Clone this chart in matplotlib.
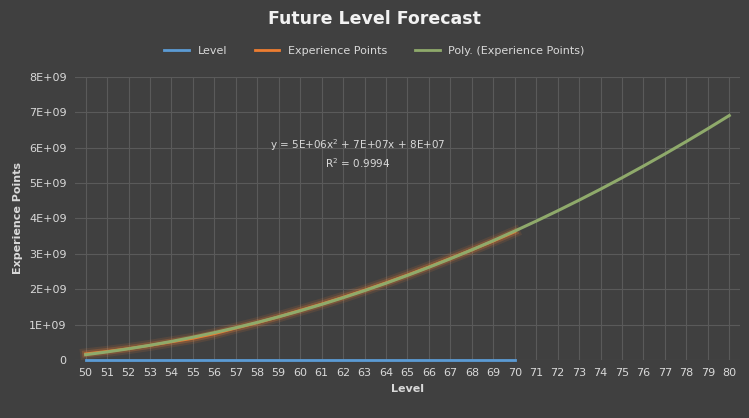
import matplotlib.pyplot as plt
import matplotlib.patheffects as pe
import numpy as np

levels = list(range(50, 81))
known_levels = list(range(50, 71))
experience = [0.17, 0.24, 0.32, 0.41, 0.51, 0.61, 0.74, 0.90, 1.05, 1.22, 1.40,
              1.58, 1.77, 1.97, 2.18, 2.40, 2.63, 2.87, 3.11, 3.36, 3.62]
experience = [v * 1e9 for v in experience]
y_ticks = [0, 1e9, 2e9, 3e9, 4e9, 5e9, 6e9, 7e9, 8e9]
y_labels = ["0", "1E+09", "2E+09", "3E+09", "4E+09", "5E+09", "6E+09", "7E+09", "8E+09"]

bg = "#404040"
fig = plt.figure(figsize=(7.49, 4.18), dpi=100, facecolor=bg)
ax = fig.add_axes([0.100, 0.139, 0.888, 0.677], facecolor=bg)

idx_known = np.arange(1, len(known_levels) + 1)
idx_all = np.arange(1, len(levels) + 1)
coef = np.polyfit(idx_known, experience, 2)
trend = np.polyval(coef, idx_all)

ax.plot(levels, trend, color="#8faa6b", lw=2.2, zorder=3)
ax.plot(known_levels, experience, color="#ed7d31", lw=2, zorder=2,
        path_effects=[pe.Stroke(linewidth=8, foreground="#ed7d31", alpha=0.12),
                      pe.Stroke(linewidth=5, foreground="#ed7d31", alpha=0.25),
                      pe.Normal()])
ax.plot(known_levels, known_levels, color="#5b9bd5", lw=2, zorder=4, clip_on=False)

ax.set_xlim(49.5, 80.5)
ax.set_ylim(0, 8e9)
ax.set_xticks(levels)
ax.set_xticklabels([str(l) for l in levels])
ax.set_yticks(y_ticks)
ax.set_yticklabels(y_labels)
ax.grid(True, color="#5a5a5a", lw=0.8)
ax.set_axisbelow(True)
for s in ax.spines.values():
    s.set_visible(False)
ax.tick_params(colors="#d9d9d9", labelsize=8, length=0, pad=6)

ax.set_xlabel("Level", color="#d9d9d9", fontsize=8, fontweight="bold")
ax.set_ylabel("Experience Points", color="#d9d9d9", fontsize=8, fontweight="bold")
fig.text(0.5, 0.955, "Future Level Forecast", color="#f2f2f2", fontsize=12.5,
         fontweight="bold", ha="center", va="center")
ax.text(0.425, 0.73, "y = 5E+06x$^2$ + 7E+07x + 8E+07\nR$^2$ = 0.9994", transform=ax.transAxes,
        color="#d9d9d9", fontsize=7.5, ha="center", va="center", linespacing=1.3)

handles = [plt.Line2D([], [], color="#5b9bd5", lw=2),
           plt.Line2D([], [], color="#ed7d31", lw=2),
           plt.Line2D([], [], color="#8faa6b", lw=2)]
fig.legend(handles, ["Level", "Experience Points", "Poly. (Experience Points)"],
           loc="center", bbox_to_anchor=(0.5, 0.878), ncol=3, frameon=False,
           fontsize=8, labelcolor="#d9d9d9", handlelength=2.2, columnspacing=2.5)

plt.savefig("out.png", dpi=100, facecolor=bg)
